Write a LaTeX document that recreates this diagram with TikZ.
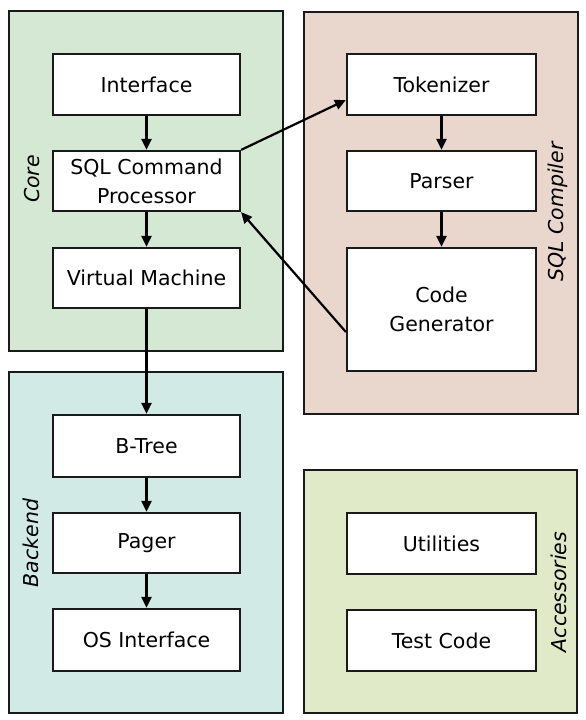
\documentclass[tikz,border=0pt]{standalone}
\usepackage{fontspec}
\setmainfont{DejaVu Sans}
\usetikzlibrary{arrows.meta,calc}
\definecolor{coreC}{HTML}{D5E8D4}
\definecolor{sqlC}{HTML}{E9D6CD}
\definecolor{backC}{HTML}{D1EAE6}
\definecolor{accC}{HTML}{E0EAC8}
\definecolor{edgeC}{HTML}{1A1A1A}
\begin{document}
\begin{tikzpicture}[x=1pt,y=-1pt,
  grp/.style={draw=edgeC,line width=2.2pt},
  box/.style={draw=edgeC,line width=2.2pt,fill=white,inner sep=0pt,minimum width=187pt,align=center,
    font=\fontsize{20.5}{29}\selectfont},
  glabel/.style={rotate=90,font=\fontsize{20.5}{25}\selectfont\itshape,inner sep=0pt},
  arr/.style={draw=black,line width=2.2pt,-{Triangle[length=11pt,width=10pt]}}]
\useasboundingbox (0,0) rectangle (586,720);
% groups
\draw[grp,fill=coreC] (9,11) rectangle (283,351);
\draw[grp,fill=sqlC] (304,12) rectangle (578,414);
\draw[grp,fill=backC] (9,372) rectangle (283,713);
\draw[grp,fill=accC] (304,470) rectangle (577,713);
\node[glabel] (lcore) at (32,179) {Core};
\node[glabel] (lsql) at (558,212) {SQL Compiler};
\node[glabel] (lback) at (31,543) {Backend};
\node[glabel] (lacc) at (559,592) {Accessories};
% boxes
\node[box,minimum height=61pt] (iface) at (146.5,84.5) {Interface};
\node[box,minimum height=60pt] (sqlcmd) at (146.5,181) {SQL Command\\Processor};
\node[box,minimum height=60pt] (vm) at (146.5,278) {Virtual Machine};
\node[box,minimum height=61pt,minimum width=189pt] (tok) at (441.5,84.5) {Tokenizer};
\node[box,minimum height=60pt,minimum width=189pt] (parser) at (441.5,181) {Parser};
\node[box,minimum height=123pt,minimum width=189pt] (cg) at (441.5,309.5) {Code\\Generator};
\node[box,minimum height=62pt] (bt) at (146.5,446) {B-Tree};
\node[box,minimum height=60pt] (pager) at (146.5,543) {Pager};
\node[box,minimum height=62pt] (os) at (146.5,640) {OS Interface};
\node[box,minimum height=61pt,minimum width=189pt] (util) at (441.5,543.5) {Utilities};
\node[box,minimum height=61pt,minimum width=189pt] (test) at (441.5,640.5) {Test Code};
% connectors
\draw[arr] (iface) -- (sqlcmd);
\draw[arr] (sqlcmd) -- (vm);
\draw[arr] (vm) -- (bt);
\draw[arr] (bt) -- (pager);
\draw[arr] (pager) -- (os);
\draw[arr] (tok) -- (parser);
\draw[arr] (parser) -- (cg);
\draw[arr] (sqlcmd.north east) -- ([yshift=-15.5pt]tok.west);
\draw[arr] ([yshift=-22.5pt]cg.west) -- (sqlcmd.south east);
\end{tikzpicture}
\end{document}
